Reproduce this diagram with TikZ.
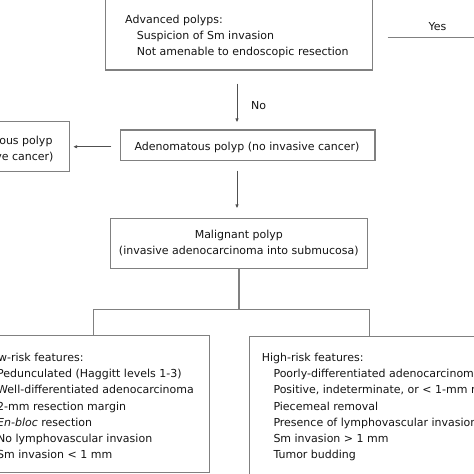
\documentclass[tikz,border=0pt]{standalone}
\usepackage{fontspec}
\setmainfont{DejaVu Sans}
\usetikzlibrary{positioning}
\usetikzlibrary{arrows.meta}
\definecolor{boxc}{RGB}{128,128,128}
\definecolor{linec}{RGB}{80,80,80}
\definecolor{txtc}{RGB}{20,20,20}
\newcommand{\ind}{11.7}
\newcommand{\lsep}{16.1}

\begin{document}
\begin{tikzpicture}[x=1pt, y=-1pt, >={Latex[length=4pt,width=3.6pt]},
		font=\fontsize{11}{13}\selectfont, text=txtc]
		\tikzstyle{box}=[draw=boxc, line width=1.3pt, inner sep=0pt]
		\tikzstyle{txt}=[anchor=base west, inner sep=0pt]
		\tikzstyle{ctxt}=[anchor=base, inner sep=0pt]
		\tikzstyle{arrow}=[draw=linec, line width=1pt, ->]
		\tikzstyle{link}=[draw=boxc, line width=1.3pt]

		\useasboundingbox (0,0) rectangle (474,474);
		\clip (0,0) rectangle (474,474);

		% boxes
		\node[box, minimum width=267pt, minimum height=100pt] (adv) at (239.2,20) {};
		\node[box, minimum width=254.3pt, minimum height=30.5pt] (adn) at (247.85,145.25) {};
		\node[box, minimum width=144pt, minimum height=50pt] (adnl) at (-2.5,146.7) {};
		\node[box, minimum width=257pt, minimum height=50pt] (mal) at (239.2,243.3) {};
		\node[box, minimum width=269.3pt, minimum height=136.6pt] (low) at (74.65,404) {};
		\node[box, minimum width=270.3pt, minimum height=143.3pt] (high) at (384.85,408.35) {};

		% advanced polyps
		\node[txt] (adv-0) at (125,23.5) {Advanced polyps:};
		\node[txt] (adv-1) at (125+\ind,39.5) {Suspicion of Sm invasion};
		\node[txt] (adv-2) at (125+\ind,55.5) {Not amenable to endoscopic resection};

		\node[ctxt] (yes) at (437.5,30) {Yes};
		\node[ctxt] (no) at (258.5,109) {No};

		\node[ctxt] (adn-0) at (247,150.7) {Adenomatous polyp (no invasive cancer)};
		\node[ctxt] (adnl-0) at (-2.4,144) {Adenomatous polyp};
		\node[ctxt] (adnl-1) at (-2.4,160) {(no invasive cancer)};

		\node[ctxt] (mal-0) at (238.8,238) {Malignant polyp};
		\node[ctxt] (mal-1) at (238.8,254) {(invasive adenocarcinoma into submucosa)};

		% risk features
		\node[txt] (low-0) at (-3-\ind,361.7) {Low-risk features:};
		\foreach \t [count=\i] in {{Pedunculated (Haggitt levels 1-3)},
				{Well-differentiated adenocarcinoma}, {2-mm resection margin},
				{\textit{En-bloc} resection}, {No lymphovascular invasion},
				{Sm invasion < 1 mm}}
			\node[txt] (low-\i) at (-3,361.7+\lsep*\i) {\t};

		\node[txt] (high-0) at (261.7,361.7) {High-risk features:};
		\foreach \t [count=\i] in {{Poorly-differentiated adenocarcinoma},
				{Positive, indeterminate, or < 1-mm resection margin},
				{Piecemeal removal}, {Presence of lymphovascular invasion},
				{Sm invasion > 1 mm}, {Tumor budding}}
			\node[txt] (high-\i) at (273.3,361.7+\lsep*\i) {\t};

		% connections
		\coordinate (yesto) at (500,37.7);
		\draw[link, line width=1pt] ([xshift=14.3pt, yshift=-17.7pt]adv.east) -- (yesto);

		\path ([xshift=-2.2pt]adv.south) edge [arrow, shorten <=13pt, shorten >=7pt]
			([xshift=-2.2pt]adv.south |- adn.north);
		\path ([yshift=-1.5pt]adn.west) edge [arrow, shorten <=8.7pt, shorten >=3pt]
			([yshift=-1.5pt]adn.west -| adnl.east);
		\path ([xshift=-2.2pt]mal.north |- adn.south) edge [arrow, shorten <=9.5pt, shorten >=9.3pt]
			([xshift=-2.2pt]mal.north);

		\coordinate (split) at (239,309.3);
		\coordinate (lowtop) at (93.3,335.7);
		\coordinate (hightop) at (369.7,336.7);
		\draw[link] (mal.south -| split) -- (split);
		\draw[link] (lowtop) |- (split) -| (hightop);

\end{tikzpicture}
\end{document}
